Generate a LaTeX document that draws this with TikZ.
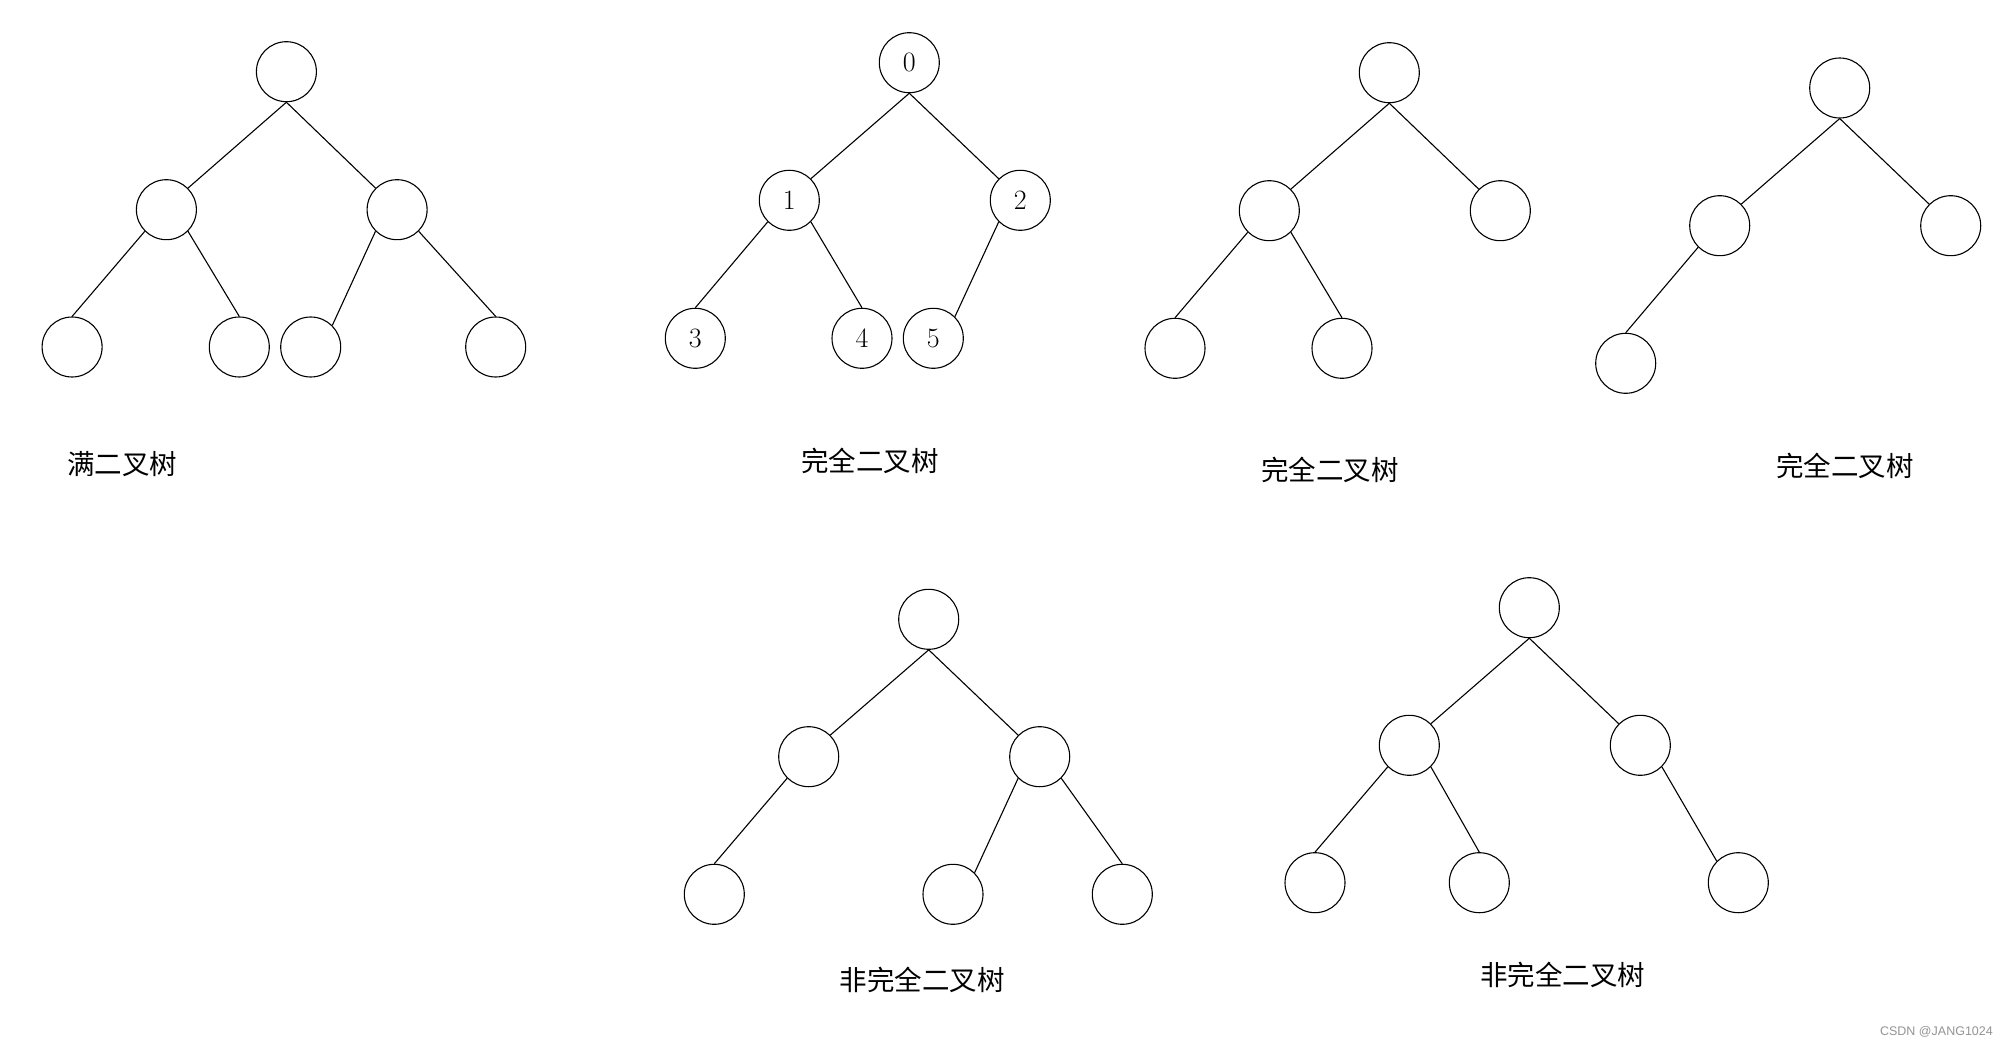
\documentclass[tikz,border=0pt]{standalone}
\usepackage{fontspec}
\newfontfamily\cjk{Noto Sans CJK SC}
\newfontfamily\wmfont{Liberation Sans}
\begin{document}
\begin{tikzpicture}[x=1pt,y=-1pt,
  tn/.style={circle,draw,line width=1.1pt,minimum size=60pt,inner sep=0pt,font=\fontsize{28}{32}\selectfont},
  edge/.style={line width=1.1pt},
  treelabel/.style={font=\cjk\fontsize{27.5}{32}\selectfont,inner sep=0pt}]
\useasboundingbox[fill=white] (0,0) rectangle (2009,1048);

% Tree 1: full binary tree
\node[tn] (a0) at (286.4,71.7) {};
\node[tn] (a1) at (166.4,209.7) {};
\node[tn] (a2) at (397.1,209.7) {};
\node[tn] (a3) at (72.1,347) {};
\node[tn] (a4) at (239.3,347) {};
\node[tn] (a5) at (310.7,347) {};
\node[tn] (a6) at (495.7,347) {};
\draw[edge] (a0.south) -- (a1.north east);
\draw[edge] (a0.south) -- (a2.north west);
\draw[edge] (a1.south west) -- (a3.north);
\draw[edge] (a1.south east) -- (a4.north);
\draw[edge] (a2.south west) -- (a5.north east);
\draw[edge] (a2.south east) -- (a6.north);
\node[treelabel] (t1) at (122.4,464) {满二叉树};

% Tree 2: numbered complete binary tree
\node[tn] (b0) at (909.3,62.7) {0};
\node[tn] (b1) at (789.3,200.3) {1};
\node[tn] (b2) at (1020.3,200.3) {2};
\node[tn] (b3) at (695.3,338.3) {3};
\node[tn] (b4) at (862,338.3) {4};
\node[tn] (b5) at (933.3,338.3) {\raisebox{-3pt}{5}};
\draw[edge] (b0.south) -- (b1.north east);
\draw[edge] (b0.south) -- (b2.north west);
\draw[edge] (b1.south west) -- (b3.north);
\draw[edge] (b1.south east) -- (b4.north);
\draw[edge] (b2.south west) -- (b5.north east);
\node[treelabel] (t2) at (870.2,461.3) {完全二叉树};

% Tree 3
\node[tn] (c0) at (1389.3,72.7) {};
\node[tn] (c1) at (1269.3,210.7) {};
\node[tn] (c2) at (1500.3,210.7) {};
\node[tn] (c3) at (1175,348.3) {};
\node[tn] (c4) at (1342,348.3) {};
\draw[edge] (c0.south) -- (c1.north east);
\draw[edge] (c0.south) -- (c2.north west);
\draw[edge] (c1.south west) -- (c3.north);
\draw[edge] (c1.south east) -- (c4.north);
\node[treelabel] (t3) at (1330,470) {完全二叉树};

% Tree 4
\node[tn] (d0) at (1839.7,88) {};
\node[tn] (d1) at (1719.7,225.7) {};
\node[tn] (d2) at (1950.7,225.7) {};
\node[tn] (d3) at (1625.7,363.3) {};
\draw[edge] (d0.south) -- (d1.north east);
\draw[edge] (d0.south) -- (d2.north west);
\draw[edge] (d1.south west) -- (d3.north);
\node[treelabel] (t4) at (1845,465.8) {完全二叉树};

% Tree 5
\node[tn] (e0) at (928.7,619.3) {};
\node[tn] (e1) at (808.7,756.7) {};
\node[tn] (e2) at (1039.7,756.7) {};
\node[tn] (e3) at (714.3,894.3) {};
\node[tn] (e4) at (953,894.3) {};
\node[tn] (e5) at (1122.3,894.3) {};
\draw[edge] (e0.south) -- (e1.north east);
\draw[edge] (e0.south) -- (e2.north west);
\draw[edge] (e1.south west) -- (e3.north);
\draw[edge] (e2.south west) -- (e4.north east);
\draw[edge] (e2.south east) -- (e5.north);
\node[treelabel] (t5) at (922,980) {非完全二叉树};

% Tree 6
\node[tn] (f0) at (1529.3,607.7) {};
\node[tn] (f1) at (1409.3,745.3) {};
\node[tn] (f2) at (1640.3,745.3) {};
\node[tn] (f3) at (1315,882.7) {};
\node[tn] (f4) at (1479.3,882.7) {};
\node[tn] (f5) at (1738.3,882.7) {};
\draw[edge] (f0.south) -- (f1.north east);
\draw[edge] (f0.south) -- (f2.north west);
\draw[edge] (f1.south west) -- (f3.north);
\draw[edge] (f1.south east) -- (f4.north);
\draw[edge] (f2.south east) -- (f5.north west);
\node[treelabel] (t6) at (1562.9,975.3) {非完全二叉树};

% watermark
\node[anchor=east,inner sep=0pt,text=black!42,font=\wmfont\fontsize{12.5}{14}\selectfont] (wm) at (1993,1032) {CSDN @JANG1024};
\end{tikzpicture}
\end{document}
